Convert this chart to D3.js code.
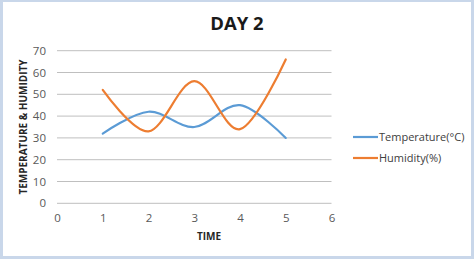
<!DOCTYPE html>
<html><head><meta charset="utf-8">
<script src="https://cdn.jsdelivr.net/npm/d3@7"></script>
<style>html,body{margin:0;padding:0;background:#c9d7ea;}svg{display:block;}</style>
</head><body>
<script>
const time = [1, 2, 3, 4, 5];
const temperature = [32, 42, 35, 45, 30];
const humidity = [52, 33, 56, 34, 66];
const xTicks = [0, 1, 2, 3, 4, 5, 6];
const yTicks = [0, 10, 20, 30, 40, 50, 60, 70];
const seriesNames = ["Temperature(\u00B0C)", "Humidity(%)"];
const colors = ["#5b9bd5", "#ed7d31"];

const W = 474, H = 259;
const svg = d3.select("body").append("svg").attr("width", W).attr("height", H);
svg.append("rect").attr("x", 0).attr("y", 0).attr("width", W).attr("height", H).attr("fill", "#c9d7ea");
svg.append("rect").attr("x", 3).attr("y", 2).attr("width", 468).attr("height", 254).attr("fill", "#ffffff");

const x = d3.scaleLinear().domain([0, 6]).range([57, 331.5]);
const y = d3.scaleLinear().domain([0, 70]).range([203.3, 50.7]);
const font = "'Open Sans', 'Noto Sans', sans-serif";

// gridlines
svg.append("g").selectAll("line").data(yTicks).join("line")
  .attr("x1", x(0)).attr("x2", x(6))
  .attr("y1", d => y(d)).attr("y2", d => y(d))
  .attr("stroke", "#bfbfbf").attr("stroke-width", 1);

// y axis labels
const yAxis = d3.axisLeft(y).tickValues(yTicks).tickSize(0).tickPadding(11);
const gy = svg.append("g").attr("transform", `translate(${x(0)},0)`).call(yAxis);
gy.select(".domain").remove();
gy.selectAll("text").attr("font-family", font).attr("font-size", 11.5).attr("fill", "#595959");

// x axis
const xAxis = d3.axisBottom(x).tickValues(xTicks).tickSize(0).tickPadding(11).tickFormat(d3.format("d"));
const gx = svg.append("g").attr("transform", `translate(0,${y(0)})`).call(xAxis);
gx.select(".domain").remove();
gx.selectAll("text").attr("font-family", font).attr("font-size", 11.5).attr("fill", "#595959");

// lines
const seriesData = [temperature, humidity];
const line = d3.line().x((d, i) => x(time[i])).y(d => y(d)).curve(d3.curveCatmullRom.alpha(0));
svg.append("g").selectAll("path").data(seriesData).join("path")
  .attr("d", d => line(d))
  .attr("fill", "none")
  .attr("stroke", (d, i) => colors[i])
  .attr("stroke-width", 2.2)
  .attr("stroke-linecap", "round");

// title
svg.append("text").attr("x", 237).attr("y", 30).attr("text-anchor", "middle")
  .attr("font-family", font).attr("font-weight", "bold").attr("font-size", 18.5).attr("fill", "#1a1a1a")
  .text("DAY 2");

// axis titles
svg.append("text").attr("x", 209).attr("y", 240).attr("text-anchor", "middle")
  .attr("font-family", font).attr("font-weight", "bold").attr("font-size", 10).attr("fill", "#262626")
  .text("TIME");
svg.append("text").attr("transform", "translate(27,127) rotate(-90)").attr("text-anchor", "middle")
  .attr("font-family", font).attr("font-weight", "bold").attr("font-size", 10).attr("fill", "#262626")
  .text("TEMPERATURE & HUMIDITY");

// legend
const lg = svg.append("g").selectAll("g").data(seriesNames).join("g")
  .attr("transform", (d, i) => `translate(353,${137 + i * 21})`);
lg.append("line").attr("x1", 0).attr("x2", 25).attr("y1", 0).attr("y2", 0)
  .attr("stroke", (d, i) => colors[i]).attr("stroke-width", 2.2);
lg.append("text").attr("x", 26).attr("y", 4).attr("font-family", font).attr("font-size", 11)
  .attr("fill", "#404040").text(d => d);
</script>
</body></html>
